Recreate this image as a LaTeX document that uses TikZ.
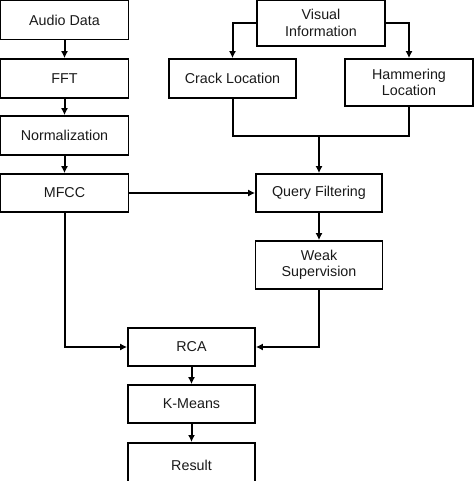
\documentclass[tikz,border=0pt]{standalone}
\usepackage{fontspec}
\setmainfont{Liberation Sans}
\usetikzlibrary{arrows.meta}
\tikzset{
  stage/.style={draw, line width=1.7pt, align=center, inner sep=2pt,
    font=\fontsize{14.3}{16.5}\selectfont, text=black!90},
  flow/.style={line width=2pt, -{Latex[length=7pt,width=7pt]}},
  link/.style={line width=2pt}
}
\begin{document}
\begin{tikzpicture}[x=1pt,y=-1pt]
\useasboundingbox (0,0) rectangle (474,481);
\clip (0,0) rectangle (474,481);
% audio branch
\node[stage, minimum width=128pt, minimum height=39pt] (audio) at (64.5,20) {Audio Data};
\node[stage, minimum width=128pt, minimum height=39pt] (fft) at (64.5,78.5) {FFT};
\node[stage, minimum width=128pt, minimum height=39pt] (norm) at (64.5,135.5) {Normalization};
\node[stage, minimum width=128pt, minimum height=38pt] (mfcc) at (64.5,193) {MFCC};
% visual branch
\node[stage, minimum width=128pt, minimum height=46pt] (visual) at (321,23) {Visual\\Information};
\node[stage, minimum width=127pt, minimum height=39pt] (crack) at (232.5,78.5) {Crack Location};
\node[stage, minimum width=128pt, minimum height=47pt] (hammer) at (409,82.5) {Hammering\\Location};
\node[stage, minimum width=126pt, minimum height=38pt] (query) at (319,193) {Query Filtering};
\node[stage, minimum width=127pt, minimum height=48pt] (weak) at (319,265) {Weak\\Supervision};
% clustering
\node[stage, minimum width=127pt, minimum height=38pt] (rca) at (191.5,347) {RCA};
\node[stage, minimum width=127pt, minimum height=38pt] (kmeans) at (191.5,404) {K-Means};
\node[stage, minimum width=127pt, minimum height=60pt, text depth=0pt, anchor=north] (result) at (191.5,442) {\raisebox{16pt}{Result}};
\coordinate (join) at (319,136);
% connectors
\draw[flow] (audio) -- (fft);
\draw[flow] (fft) -- (norm);
\draw[flow] (norm) -- (mfcc);
\draw[flow] (visual.west) -| (crack.north);
\draw[flow] (visual.east) -| (hammer.north);
\draw[link] (crack.south) |- (join);
\draw[link] (hammer.south) |- (join);
\draw[flow] (join) -- (query.north);
\draw[flow] (mfcc.east) -- (query.west);
\draw[flow] (query) -- (weak);
\draw[flow] (weak.south) |- (rca.east);
\draw[flow] (mfcc.south) |- (rca.west);
\draw[flow] (rca) -- (kmeans);
\draw[flow] (kmeans) -- (result);
\end{tikzpicture}
\end{document}
